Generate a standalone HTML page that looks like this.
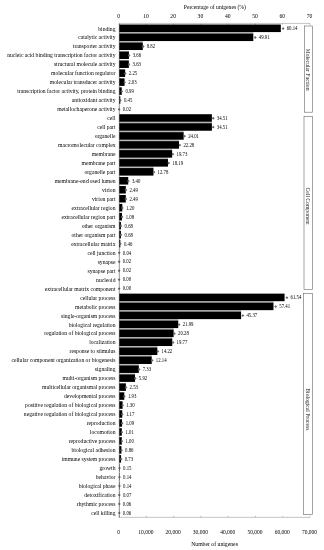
<!DOCTYPE html>
<html lang="en"><head><meta charset="utf-8"><title>GO classification of unigenes</title>
<style>
html,body{margin:0;padding:0;background:#fff;}
body{width:324px;height:550px;overflow:hidden;}
svg{display:block;}
text{font-family:"Liberation Serif","DejaVu Serif",serif;fill:#000;}
.lab{font-size:6.1px;text-anchor:end;}
.val{font-size:5.3px;text-anchor:start;fill:#000;}
.tick{font-size:6.1px;text-anchor:middle;}
.btick{font-size:5.5px;}
.ttl{font-size:6.1px;text-anchor:middle;}
.grp{font-size:6.1px;text-anchor:middle;fill:#222;}
.bar{fill:#000;}
.gap{fill:#000;}
.box{fill:#fff;stroke:#666;stroke-width:0.6;}
.gax{stroke:#aaa;stroke-width:0.7;fill:none;}
.yax{stroke:#555;stroke-width:0.6;fill:none;}
.mk{fill:#666;}
</style></head><body>
<svg width="324" height="550" viewBox="0 0 324 550">
<rect x="0" y="0" width="324" height="550" fill="#fff"/>
<text class="ttl" transform="translate(214.9 9.3) scale(0.9262 1)">Percentage of unigenes (%)</text>
<text class="tick" transform="translate(118.60 17.6) scale(0.9262 1)">0</text>
<text class="tick" transform="translate(145.87 17.6) scale(0.9262 1)">10</text>
<text class="tick" transform="translate(173.14 17.6) scale(0.9262 1)">20</text>
<text class="tick" transform="translate(200.41 17.6) scale(0.9262 1)">30</text>
<text class="tick" transform="translate(227.69 17.6) scale(0.9262 1)">40</text>
<text class="tick" transform="translate(254.96 17.6) scale(0.9262 1)">50</text>
<text class="tick" transform="translate(282.23 17.6) scale(0.9262 1)">60</text>
<text class="tick" transform="translate(309.50 17.6) scale(0.9262 1)">70</text>
<path class="gax" d="M119.10 23.40 H310.00"/>
<path class="gax" d="M119.10 23.40 v1.6"/>
<path class="gax" d="M146.37 23.40 v1.6"/>
<path class="gax" d="M173.64 23.40 v1.6"/>
<path class="gax" d="M200.91 23.40 v1.6"/>
<path class="gax" d="M228.19 23.40 v1.6"/>
<path class="gax" d="M255.46 23.40 v1.6"/>
<path class="gax" d="M282.73 23.40 v1.6"/>
<path class="gax" d="M310.00 23.40 v1.6"/>
<path class="gax" d="M119.10 517.35 H310.00"/>
<path class="gax" d="M119.10 517.35 v-1.6"/>
<text class="tick" transform="translate(118.60 534.2) scale(0.9016 1)">0</text>
<path class="gax" d="M146.37 517.35 v-1.6"/>
<text class="tick" transform="translate(145.87 534.2) scale(0.9016 1)">10,000</text>
<path class="gax" d="M173.64 517.35 v-1.6"/>
<text class="tick" transform="translate(173.14 534.2) scale(0.9016 1)">20,000</text>
<path class="gax" d="M200.91 517.35 v-1.6"/>
<text class="tick" transform="translate(200.41 534.2) scale(0.9016 1)">30,000</text>
<path class="gax" d="M228.19 517.35 v-1.6"/>
<text class="tick" transform="translate(227.69 534.2) scale(0.9016 1)">40,000</text>
<path class="gax" d="M255.46 517.35 v-1.6"/>
<text class="tick" transform="translate(254.96 534.2) scale(0.9016 1)">50,000</text>
<path class="gax" d="M282.73 517.35 v-1.6"/>
<text class="tick" transform="translate(282.23 534.2) scale(0.9016 1)">60,000</text>
<path class="gax" d="M310.00 517.35 v-1.6"/>
<text class="tick" transform="translate(309.50 534.2) scale(0.9016 1)">70,000</text>
<text class="ttl" transform="translate(214.5 546) scale(0.9410 1)">Number of unigenes</text>
<rect class="bar" x="119.10" y="24.53" width="161.72" height="7.55"/>
<text class="lab" transform="translate(115.5 30.50) scale(0.9262 1)">binding</text>
<path class="mk" d="M283.11 27.15 l1.4 1.4 l-1.4 1.4 l-1.4 -1.4 z"/>
<text class="val" transform="translate(286.71 30.25) scale(0.9057 1)">60.14</text>
<rect class="bar" x="119.10" y="33.50" width="134.21" height="7.55"/>
<text class="lab" transform="translate(115.5 39.47) scale(0.9262 1)">catalytic activity</text>
<path class="mk" d="M255.21 36.12 l1.4 1.4 l-1.4 1.4 l-1.4 -1.4 z"/>
<text class="val" transform="translate(258.81 39.22) scale(0.9057 1)">49.91</text>
<rect class="bar" x="119.10" y="42.47" width="23.72" height="7.55"/>
<text class="lab" transform="translate(115.5 48.44) scale(0.9262 1)">transporter activity</text>
<path class="mk" d="M143.15 45.09 l1.4 1.4 l-1.4 1.4 l-1.4 -1.4 z"/>
<text class="val" transform="translate(146.75 48.19) scale(0.9057 1)">8.82</text>
<rect class="bar" x="119.10" y="51.44" width="9.84" height="7.55"/>
<text class="lab" transform="translate(115.5 57.41) scale(0.9262 1)">nucleic acid binding transcription factor activity</text>
<path class="mk" d="M129.08 54.06 l1.4 1.4 l-1.4 1.4 l-1.4 -1.4 z"/>
<text class="val" transform="translate(132.68 57.16) scale(0.9057 1)">3.66</text>
<rect class="bar" x="119.10" y="60.41" width="9.76" height="7.55"/>
<text class="lab" transform="translate(115.5 66.38) scale(0.9262 1)">structural molecule activity</text>
<path class="mk" d="M129.00 63.03 l1.4 1.4 l-1.4 1.4 l-1.4 -1.4 z"/>
<text class="val" transform="translate(132.60 66.13) scale(0.9057 1)">3.63</text>
<rect class="bar" x="119.10" y="69.38" width="6.05" height="7.55"/>
<text class="lab" transform="translate(115.5 75.35) scale(0.9262 1)">molecular function regulator</text>
<path class="mk" d="M125.24 72.00 l1.4 1.4 l-1.4 1.4 l-1.4 -1.4 z"/>
<text class="val" transform="translate(128.84 75.10) scale(0.9057 1)">2.25</text>
<rect class="bar" x="119.10" y="78.34" width="5.46" height="7.55"/>
<text class="lab" transform="translate(115.5 84.32) scale(0.9262 1)">molecular transducer activity</text>
<path class="mk" d="M124.64 80.97 l1.4 1.4 l-1.4 1.4 l-1.4 -1.4 z"/>
<text class="val" transform="translate(128.24 84.07) scale(0.9057 1)">2.03</text>
<rect class="bar" x="119.10" y="87.31" width="2.66" height="7.55"/>
<text class="lab" transform="translate(115.5 93.29) scale(0.9262 1)">transcription factor activity, protein binding</text>
<path class="mk" d="M121.80 89.94 l1.4 1.4 l-1.4 1.4 l-1.4 -1.4 z"/>
<text class="val" transform="translate(125.40 93.04) scale(0.9057 1)">0.99</text>
<rect class="bar" x="119.10" y="96.28" width="1.21" height="7.55"/>
<text class="lab" transform="translate(115.5 102.26) scale(0.9262 1)">antioxidant activity</text>
<path class="mk" d="M120.33 98.91 l1.4 1.4 l-1.4 1.4 l-1.4 -1.4 z"/>
<text class="val" transform="translate(123.93 102.01) scale(0.9057 1)">0.45</text>
<rect class="bar" x="119.10" y="105.25" width="0.05" height="7.55"/>
<text class="lab" transform="translate(115.5 111.23) scale(0.9262 1)">metallochaperone activity</text>
<path class="mk" d="M119.15 107.88 l1.4 1.4 l-1.4 1.4 l-1.4 -1.4 z"/>
<text class="val" transform="translate(122.75 110.98) scale(0.9057 1)">0.02</text>
<rect class="bar" x="119.10" y="114.22" width="92.80" height="7.55"/>
<text class="lab" transform="translate(115.5 120.20) scale(0.9262 1)">cell</text>
<path class="mk" d="M213.21 116.85 l1.4 1.4 l-1.4 1.4 l-1.4 -1.4 z"/>
<text class="val" transform="translate(216.81 119.95) scale(0.9057 1)">34.51</text>
<rect class="bar" x="119.10" y="123.19" width="92.80" height="7.55"/>
<text class="lab" transform="translate(115.5 129.17) scale(0.9262 1)">cell part</text>
<path class="mk" d="M213.21 125.82 l1.4 1.4 l-1.4 1.4 l-1.4 -1.4 z"/>
<text class="val" transform="translate(216.81 128.92) scale(0.9057 1)">34.51</text>
<rect class="bar" x="119.10" y="132.17" width="64.56" height="7.55"/>
<text class="lab" transform="translate(115.5 138.14) scale(0.9262 1)">organelle</text>
<path class="mk" d="M184.58 134.79 l1.4 1.4 l-1.4 1.4 l-1.4 -1.4 z"/>
<text class="val" transform="translate(188.18 137.89) scale(0.9057 1)">24.01</text>
<rect class="bar" x="119.10" y="141.14" width="59.91" height="7.55"/>
<text class="lab" transform="translate(115.5 147.11) scale(0.9262 1)">macromolecular complex</text>
<path class="mk" d="M179.86 143.76 l1.4 1.4 l-1.4 1.4 l-1.4 -1.4 z"/>
<text class="val" transform="translate(183.46 146.86) scale(0.9057 1)">22.28</text>
<rect class="bar" x="119.10" y="150.11" width="53.05" height="7.55"/>
<text class="lab" transform="translate(115.5 156.08) scale(0.9262 1)">membrane</text>
<path class="mk" d="M172.91 152.73 l1.4 1.4 l-1.4 1.4 l-1.4 -1.4 z"/>
<text class="val" transform="translate(176.51 155.83) scale(0.9057 1)">19.73</text>
<rect class="bar" x="119.10" y="159.08" width="48.91" height="7.55"/>
<text class="lab" transform="translate(115.5 165.05) scale(0.9262 1)">membrane part</text>
<path class="mk" d="M168.71 161.70 l1.4 1.4 l-1.4 1.4 l-1.4 -1.4 z"/>
<text class="val" transform="translate(172.31 164.80) scale(0.9057 1)">18.19</text>
<rect class="bar" x="119.10" y="168.05" width="34.37" height="7.55"/>
<text class="lab" transform="translate(115.5 174.02) scale(0.9262 1)">organelle part</text>
<path class="mk" d="M153.95 170.67 l1.4 1.4 l-1.4 1.4 l-1.4 -1.4 z"/>
<text class="val" transform="translate(157.55 173.77) scale(0.9057 1)">12.78</text>
<rect class="bar" x="119.10" y="177.02" width="9.14" height="7.55"/>
<text class="lab" transform="translate(115.5 182.99) scale(0.9262 1)">membrane-enclosed lumen</text>
<path class="mk" d="M128.37 179.64 l1.4 1.4 l-1.4 1.4 l-1.4 -1.4 z"/>
<text class="val" transform="translate(131.97 182.74) scale(0.9057 1)">3.40</text>
<rect class="bar" x="119.10" y="185.99" width="6.70" height="7.55"/>
<text class="lab" transform="translate(115.5 191.96) scale(0.9262 1)">virion</text>
<path class="mk" d="M125.89 188.61 l1.4 1.4 l-1.4 1.4 l-1.4 -1.4 z"/>
<text class="val" transform="translate(129.49 191.71) scale(0.9057 1)">2.49</text>
<rect class="bar" x="119.10" y="194.96" width="6.70" height="7.55"/>
<text class="lab" transform="translate(115.5 200.93) scale(0.9262 1)">virion part</text>
<path class="mk" d="M125.89 197.58 l1.4 1.4 l-1.4 1.4 l-1.4 -1.4 z"/>
<text class="val" transform="translate(129.49 200.68) scale(0.9057 1)">2.49</text>
<rect class="bar" x="119.10" y="203.93" width="3.23" height="7.55"/>
<text class="lab" transform="translate(115.5 209.90) scale(0.9262 1)">extracellular region</text>
<path class="mk" d="M122.37 206.55 l1.4 1.4 l-1.4 1.4 l-1.4 -1.4 z"/>
<text class="val" transform="translate(125.97 209.65) scale(0.9057 1)">1.20</text>
<rect class="bar" x="119.10" y="212.90" width="2.90" height="7.55"/>
<text class="lab" transform="translate(115.5 218.87) scale(0.9262 1)">extracellular region part</text>
<path class="mk" d="M122.05 215.52 l1.4 1.4 l-1.4 1.4 l-1.4 -1.4 z"/>
<text class="val" transform="translate(125.65 218.62) scale(0.9057 1)">1.08</text>
<rect class="bar" x="119.10" y="221.87" width="1.83" height="7.55"/>
<text class="lab" transform="translate(115.5 227.84) scale(0.9262 1)">other organism</text>
<path class="mk" d="M120.95 224.49 l1.4 1.4 l-1.4 1.4 l-1.4 -1.4 z"/>
<text class="val" transform="translate(124.55 227.59) scale(0.9057 1)">0.68</text>
<rect class="bar" x="119.10" y="230.84" width="1.83" height="7.55"/>
<text class="lab" transform="translate(115.5 236.81) scale(0.9262 1)">other organism part</text>
<path class="mk" d="M120.95 233.46 l1.4 1.4 l-1.4 1.4 l-1.4 -1.4 z"/>
<text class="val" transform="translate(124.55 236.56) scale(0.9057 1)">0.68</text>
<rect class="bar" x="119.10" y="239.81" width="1.24" height="7.55"/>
<text class="lab" transform="translate(115.5 245.78) scale(0.9262 1)">extracellular matrix</text>
<path class="mk" d="M120.35 242.43 l1.4 1.4 l-1.4 1.4 l-1.4 -1.4 z"/>
<text class="val" transform="translate(123.95 245.53) scale(0.9057 1)">0.46</text>
<rect class="bar" x="119.10" y="248.78" width="0.11" height="7.55"/>
<text class="lab" transform="translate(115.5 254.75) scale(0.9262 1)">cell junction</text>
<path class="mk" d="M119.21 251.40 l1.4 1.4 l-1.4 1.4 l-1.4 -1.4 z"/>
<text class="val" transform="translate(122.81 254.50) scale(0.9057 1)">0.04</text>
<rect class="bar" x="119.10" y="257.75" width="0.05" height="7.55"/>
<text class="lab" transform="translate(115.5 263.72) scale(0.9262 1)">synapse</text>
<path class="mk" d="M119.15 260.37 l1.4 1.4 l-1.4 1.4 l-1.4 -1.4 z"/>
<text class="val" transform="translate(122.75 263.47) scale(0.9057 1)">0.02</text>
<rect class="bar" x="119.10" y="266.72" width="0.05" height="7.55"/>
<text class="lab" transform="translate(115.5 272.69) scale(0.9262 1)">synapse part</text>
<path class="mk" d="M119.15 269.34 l1.4 1.4 l-1.4 1.4 l-1.4 -1.4 z"/>
<text class="val" transform="translate(122.75 272.44) scale(0.9057 1)">0.02</text>
<text class="lab" transform="translate(115.5 281.66) scale(0.9262 1)">nucleoid</text>
<path class="mk" d="M119.10 278.31 l1.4 1.4 l-1.4 1.4 l-1.4 -1.4 z"/>
<text class="val" transform="translate(122.70 281.41) scale(0.9057 1)">0.00</text>
<text class="lab" transform="translate(115.5 290.63) scale(0.9262 1)">extracellular matrix component</text>
<path class="mk" d="M119.10 287.28 l1.4 1.4 l-1.4 1.4 l-1.4 -1.4 z"/>
<text class="val" transform="translate(122.70 290.38) scale(0.9057 1)">0.00</text>
<rect class="bar" x="119.10" y="293.63" width="165.48" height="7.55"/>
<text class="lab" transform="translate(115.5 299.60) scale(0.9262 1)">cellular process</text>
<path class="mk" d="M286.93 296.25 l1.4 1.4 l-1.4 1.4 l-1.4 -1.4 z"/>
<text class="val" transform="translate(290.53 299.35) scale(0.9057 1)">61.54</text>
<rect class="bar" x="119.10" y="302.60" width="154.38" height="7.55"/>
<text class="lab" transform="translate(115.5 308.57) scale(0.9262 1)">metabolic process</text>
<path class="mk" d="M275.67 305.22 l1.4 1.4 l-1.4 1.4 l-1.4 -1.4 z"/>
<text class="val" transform="translate(279.27 308.32) scale(0.9057 1)">57.41</text>
<rect class="bar" x="119.10" y="311.57" width="122.00" height="7.55"/>
<text class="lab" transform="translate(115.5 317.54) scale(0.9262 1)">single-organism process</text>
<path class="mk" d="M242.83 314.19 l1.4 1.4 l-1.4 1.4 l-1.4 -1.4 z"/>
<text class="val" transform="translate(246.43 317.29) scale(0.9057 1)">45.37</text>
<rect class="bar" x="119.10" y="320.54" width="59.13" height="7.55"/>
<text class="lab" transform="translate(115.5 326.51) scale(0.9262 1)">biological regulation</text>
<path class="mk" d="M179.07 323.16 l1.4 1.4 l-1.4 1.4 l-1.4 -1.4 z"/>
<text class="val" transform="translate(182.67 326.26) scale(0.9057 1)">21.99</text>
<rect class="bar" x="119.10" y="329.51" width="54.53" height="7.55"/>
<text class="lab" transform="translate(115.5 335.48) scale(0.9262 1)">regulation of biological process</text>
<path class="mk" d="M174.41 332.13 l1.4 1.4 l-1.4 1.4 l-1.4 -1.4 z"/>
<text class="val" transform="translate(178.01 335.23) scale(0.9057 1)">20.28</text>
<rect class="bar" x="119.10" y="338.48" width="53.16" height="7.55"/>
<text class="lab" transform="translate(115.5 344.45) scale(0.9262 1)">localization</text>
<path class="mk" d="M173.02 341.10 l1.4 1.4 l-1.4 1.4 l-1.4 -1.4 z"/>
<text class="val" transform="translate(176.62 344.20) scale(0.9057 1)">19.77</text>
<rect class="bar" x="119.10" y="347.45" width="38.24" height="7.55"/>
<text class="lab" transform="translate(115.5 353.42) scale(0.9262 1)">response to stimulus</text>
<path class="mk" d="M157.88 350.07 l1.4 1.4 l-1.4 1.4 l-1.4 -1.4 z"/>
<text class="val" transform="translate(161.48 353.17) scale(0.9057 1)">14.22</text>
<rect class="bar" x="119.10" y="356.42" width="32.64" height="7.55"/>
<text class="lab" transform="translate(115.5 362.39) scale(0.9262 1)">cellular component organization or biogenesis</text>
<path class="mk" d="M152.21 359.04 l1.4 1.4 l-1.4 1.4 l-1.4 -1.4 z"/>
<text class="val" transform="translate(155.81 362.14) scale(0.9057 1)">12.14</text>
<rect class="bar" x="119.10" y="365.39" width="19.71" height="7.55"/>
<text class="lab" transform="translate(115.5 371.36) scale(0.9262 1)">signaling</text>
<path class="mk" d="M139.09 368.01 l1.4 1.4 l-1.4 1.4 l-1.4 -1.4 z"/>
<text class="val" transform="translate(142.69 371.11) scale(0.9057 1)">7.33</text>
<rect class="bar" x="119.10" y="374.36" width="15.92" height="7.55"/>
<text class="lab" transform="translate(115.5 380.33) scale(0.9262 1)">multi-organism process</text>
<path class="mk" d="M135.24 376.98 l1.4 1.4 l-1.4 1.4 l-1.4 -1.4 z"/>
<text class="val" transform="translate(138.84 380.08) scale(0.9057 1)">5.92</text>
<rect class="bar" x="119.10" y="383.33" width="6.80" height="7.55"/>
<text class="lab" transform="translate(115.5 389.30) scale(0.9262 1)">multicellular organismal process</text>
<path class="mk" d="M126.00 385.95 l1.4 1.4 l-1.4 1.4 l-1.4 -1.4 z"/>
<text class="val" transform="translate(129.60 389.05) scale(0.9057 1)">2.53</text>
<rect class="bar" x="119.10" y="392.30" width="5.19" height="7.55"/>
<text class="lab" transform="translate(115.5 398.27) scale(0.9262 1)">developmental process</text>
<path class="mk" d="M124.36 394.92 l1.4 1.4 l-1.4 1.4 l-1.4 -1.4 z"/>
<text class="val" transform="translate(127.96 398.02) scale(0.9057 1)">1.93</text>
<rect class="bar" x="119.10" y="401.27" width="3.50" height="7.55"/>
<text class="lab" transform="translate(115.5 407.24) scale(0.9262 1)">positive regulation of biological process</text>
<path class="mk" d="M122.65 403.89 l1.4 1.4 l-1.4 1.4 l-1.4 -1.4 z"/>
<text class="val" transform="translate(126.25 406.99) scale(0.9057 1)">1.30</text>
<rect class="bar" x="119.10" y="410.24" width="3.15" height="7.55"/>
<text class="lab" transform="translate(115.5 416.21) scale(0.9262 1)">negative regulation of biological process</text>
<path class="mk" d="M122.29 412.86 l1.4 1.4 l-1.4 1.4 l-1.4 -1.4 z"/>
<text class="val" transform="translate(125.89 415.96) scale(0.9057 1)">1.17</text>
<rect class="bar" x="119.10" y="419.21" width="2.93" height="7.55"/>
<text class="lab" transform="translate(115.5 425.18) scale(0.9262 1)">reproduction</text>
<path class="mk" d="M122.07 421.83 l1.4 1.4 l-1.4 1.4 l-1.4 -1.4 z"/>
<text class="val" transform="translate(125.67 424.93) scale(0.9057 1)">1.09</text>
<rect class="bar" x="119.10" y="428.18" width="2.72" height="7.55"/>
<text class="lab" transform="translate(115.5 434.15) scale(0.9262 1)">locomotion</text>
<path class="mk" d="M121.85 430.80 l1.4 1.4 l-1.4 1.4 l-1.4 -1.4 z"/>
<text class="val" transform="translate(125.45 433.90) scale(0.9057 1)">1.01</text>
<rect class="bar" x="119.10" y="437.15" width="2.69" height="7.55"/>
<text class="lab" transform="translate(115.5 443.12) scale(0.9262 1)">reproductive process</text>
<path class="mk" d="M121.83 439.77 l1.4 1.4 l-1.4 1.4 l-1.4 -1.4 z"/>
<text class="val" transform="translate(125.43 442.87) scale(0.9057 1)">1.00</text>
<rect class="bar" x="119.10" y="446.12" width="2.31" height="7.55"/>
<text class="lab" transform="translate(115.5 452.09) scale(0.9262 1)">biological adhesion</text>
<path class="mk" d="M121.45 448.74 l1.4 1.4 l-1.4 1.4 l-1.4 -1.4 z"/>
<text class="val" transform="translate(125.05 451.84) scale(0.9057 1)">0.86</text>
<rect class="bar" x="119.10" y="455.09" width="1.96" height="7.55"/>
<text class="lab" transform="translate(115.5 461.06) scale(0.9262 1)">immune system process</text>
<path class="mk" d="M121.09 457.71 l1.4 1.4 l-1.4 1.4 l-1.4 -1.4 z"/>
<text class="val" transform="translate(124.69 460.81) scale(0.9057 1)">0.73</text>
<rect class="bar" x="119.10" y="464.06" width="0.40" height="7.55"/>
<text class="lab" transform="translate(115.5 470.03) scale(0.9262 1)">growth</text>
<path class="mk" d="M119.51 466.68 l1.4 1.4 l-1.4 1.4 l-1.4 -1.4 z"/>
<text class="val" transform="translate(123.11 469.78) scale(0.9057 1)">0.15</text>
<rect class="bar" x="119.10" y="473.03" width="0.38" height="7.55"/>
<text class="lab" transform="translate(115.5 479.00) scale(0.9262 1)">behavior</text>
<path class="mk" d="M119.48 475.65 l1.4 1.4 l-1.4 1.4 l-1.4 -1.4 z"/>
<text class="val" transform="translate(123.08 478.75) scale(0.9057 1)">0.14</text>
<rect class="bar" x="119.10" y="482.00" width="0.38" height="7.55"/>
<text class="lab" transform="translate(115.5 487.97) scale(0.9262 1)">biological phase</text>
<path class="mk" d="M119.48 484.62 l1.4 1.4 l-1.4 1.4 l-1.4 -1.4 z"/>
<text class="val" transform="translate(123.08 487.72) scale(0.9057 1)">0.14</text>
<rect class="bar" x="119.10" y="490.97" width="0.19" height="7.55"/>
<text class="lab" transform="translate(115.5 496.94) scale(0.9262 1)">detoxification</text>
<path class="mk" d="M119.29 493.59 l1.4 1.4 l-1.4 1.4 l-1.4 -1.4 z"/>
<text class="val" transform="translate(122.89 496.69) scale(0.9057 1)">0.07</text>
<rect class="bar" x="119.10" y="499.94" width="0.16" height="7.55"/>
<text class="lab" transform="translate(115.5 505.91) scale(0.9262 1)">rhythmic process</text>
<path class="mk" d="M119.26 502.56 l1.4 1.4 l-1.4 1.4 l-1.4 -1.4 z"/>
<text class="val" transform="translate(122.86 505.66) scale(0.9057 1)">0.06</text>
<rect class="bar" x="119.10" y="508.91" width="0.16" height="7.55"/>
<text class="lab" transform="translate(115.5 514.88) scale(0.9262 1)">cell killing</text>
<path class="mk" d="M119.26 511.53 l1.4 1.4 l-1.4 1.4 l-1.4 -1.4 z"/>
<text class="val" transform="translate(122.86 514.63) scale(0.9057 1)">0.06</text>
<rect class="gap" x="119.10" y="32.08" width="134.21" height="1.42" opacity="0.28"/>
<rect class="gap" x="119.10" y="41.05" width="23.72" height="1.42" opacity="0.28"/>
<rect class="gap" x="119.10" y="50.02" width="9.84" height="1.42" opacity="0.04"/>
<rect class="gap" x="119.10" y="58.99" width="9.76" height="1.42" opacity="0.04"/>
<rect class="gap" x="119.10" y="121.78" width="92.80" height="1.42" opacity="0.28"/>
<rect class="gap" x="119.10" y="130.75" width="64.56" height="1.42" opacity="0.28"/>
<rect class="gap" x="119.10" y="139.72" width="59.91" height="1.42" opacity="0.28"/>
<rect class="gap" x="119.10" y="148.69" width="53.05" height="1.42" opacity="0.28"/>
<rect class="gap" x="119.10" y="157.66" width="48.91" height="1.42" opacity="0.28"/>
<rect class="gap" x="119.10" y="166.63" width="34.37" height="1.42" opacity="0.28"/>
<rect class="gap" x="119.10" y="175.60" width="9.14" height="1.42" opacity="0.03"/>
<rect class="gap" x="119.10" y="301.18" width="154.38" height="1.42" opacity="0.28"/>
<rect class="gap" x="119.10" y="310.14" width="122.00" height="1.42" opacity="0.28"/>
<rect class="gap" x="119.10" y="319.12" width="59.13" height="1.42" opacity="0.28"/>
<rect class="gap" x="119.10" y="328.09" width="54.53" height="1.42" opacity="0.28"/>
<rect class="gap" x="119.10" y="337.06" width="53.16" height="1.42" opacity="0.28"/>
<rect class="gap" x="119.10" y="346.03" width="38.24" height="1.42" opacity="0.28"/>
<rect class="gap" x="119.10" y="355.00" width="32.64" height="1.42" opacity="0.28"/>
<rect class="gap" x="119.10" y="363.97" width="19.71" height="1.42" opacity="0.27"/>
<rect class="gap" x="119.10" y="372.94" width="15.92" height="1.42" opacity="0.18"/>
<path class="yax" d="M119.30 23.40 V517.75"/>
<rect class="box" x="304.40" y="26.00" width="8.20" height="86.20"/>
<text class="grp" transform="translate(305.9 69.60) rotate(90) scale(0.9262 1)">Molecular Fuction</text>
<rect class="box" x="304.00" y="116.30" width="8.40" height="173.20"/>
<text class="grp" transform="translate(305.9 206.10) rotate(90) scale(0.9262 1)">Cell Component</text>
<rect class="box" x="303.60" y="293.50" width="8.80" height="220.90"/>
<text class="grp" transform="translate(305.9 409.40) rotate(90) scale(0.9262 1)">Biological Process</text>
</svg>
</body></html>
